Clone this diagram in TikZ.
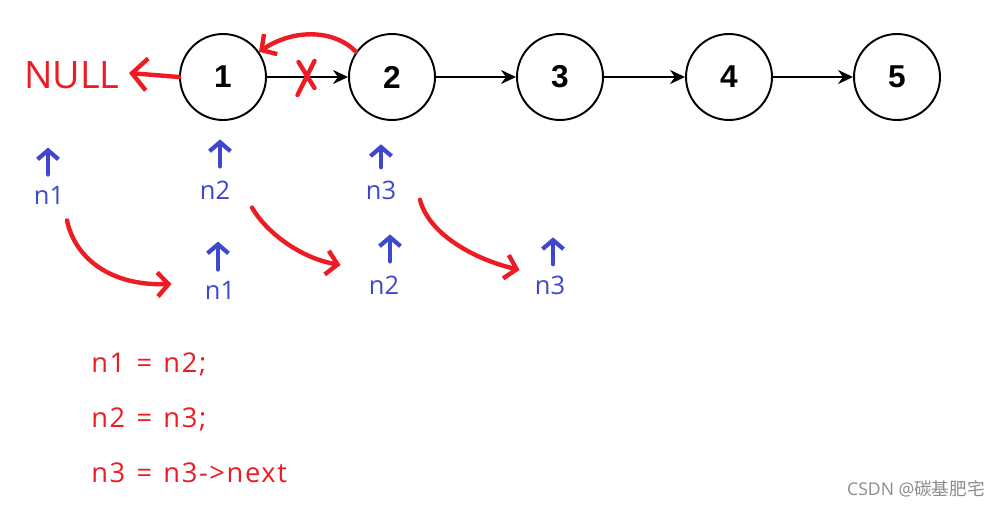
\documentclass[tikz,border=0pt]{standalone}
\usepackage{fontspec}
\setmainfont{Open Sans}
\newfontfamily\numfont{Liberation Sans}
\newfontfamily\codefont[LetterSpace=6,WordSpace=1.3]{Open Sans}
\newfontfamily\cjkfont{Noto Sans CJK SC}
\usetikzlibrary{arrows.meta,calc}

\definecolor{paintred}{RGB}{237,28,36}
\definecolor{paintblue}{RGB}{63,72,204}

\tikzset{
  listnode/.style={circle, draw, line width=1.1pt, minimum size=1.72cm, inner sep=0pt,
    font=\numfont\bfseries\fontsize{18}{18}\selectfont},
  link/.style={line width=1.1pt, -{Stealth[length=0.3cm,width=0.28cm]}},
  redpen/.style={paintred, line width=2.5pt, line cap=round, line join=round,
    -{Straight Barb[length=0.22cm,width=0.48cm]}},
  bluepen/.style={paintblue, line width=2.4pt, line cap=round,
    -{Straight Barb[length=0.18cm,width=0.42cm]}},
  ptrlabel/.style={paintblue, inner sep=0pt, font=\fontsize{14.5}{14.5}\selectfont},
  codeline/.style={paintred, anchor=base west, inner sep=0pt, font=\codefont\fontsize{15.5}{15.5}\selectfont}
}

\begin{document}
\begin{tikzpicture}[x=0.02cm, y=-0.02cm]
  \fill[white] (0,0) rectangle (1000,507);
  \useasboundingbox (0,0) rectangle (1000,507);

  % The list
  \node[listnode] (c1) at (223,77) {1};
  \node[listnode] (c2) at (392,77) {2};
  \node[listnode] (c3) at (560,77) {3};
  \node[listnode] (c4) at (729,77) {4};
  \node[listnode] (c5) at (897,77) {5};
  \draw[link] (c1) -- (c2);
  \draw[link] (c2) -- (c3);
  \draw[link] (c3) -- (c4);
  \draw[link] (c4) -- (c5);

  % Reversed link
  \node[paintred, anchor=west, inner sep=0pt, font=\fontsize{21.5}{21.5}\selectfont] (null) at (24,75) {NULL};
  \coordinate (nullend) at (129,73);
  \draw[redpen, -{Straight Barb[length=0.3cm,width=0.64cm]}] (c1.west) -- (nullend);
  \draw[redpen] (c2.145) .. controls (335,30) and (295,28) .. (c1.35);
  \coordinate (cut) at ($(c1)!0.5!(c2)$);
  \draw[paintred, line width=2.5pt, line cap=round]
    ($(cut)+(-9,-15)$) -- ($(cut)+(7,11)$)
    ($(cut)+(7,-16)$) -- ($(cut)+(-10,18)$);

  % Pointers, before
  \node[ptrlabel] (p1) at (49,195) {n1};
  \node[ptrlabel] (p2) at (215,190) {n2};
  \node[ptrlabel] (p3) at (381,190) {n3};
  \draw[bluepen] (p1.north) ++(-1,-11) -- ++(0,-27);
  \draw[bluepen] (p2.north) ++(5,-14) -- ++(0,-27);
  \draw[bluepen] (p3.north) ++(0,-13) -- ++(0,-23);

  % Pointers, after
  \node[ptrlabel] (q1) at (220,290) {n1};
  \node[ptrlabel] (q2) at (384,285) {n2};
  \node[ptrlabel] (q3) at (550,285) {n3};
  \draw[bluepen] (q1.north) ++(-2,-11) -- ++(0,-28);
  \draw[bluepen] (q2.north) ++(6,-14) -- ++(0,-27);
  \draw[bluepen] (q3.north) ++(3,-11) -- ++(0,-27);

  % Moves
  \draw[redpen] ($(p1.south)+(18,16)$) .. controls (75,258) and (110,286) .. ($(q1.west)+(-33,-6)$);
  \draw[redpen] ($(p2.south)+(37,8)$) .. controls (266,232) and (300,258) .. ($(q2.west)+(-28,-20)$);
  \draw[redpen] ($(p3.south)+(39,0)$) .. controls (428,232) and (470,258) .. ($(q3.west)+(-15,-15)$);

  % Code
  \node[codeline] (l1) at (91,372) {n1 = n2;};
  \node[codeline] (l2) at (91,427) {n2 = n3;};
  \node[codeline] (l3) at (91,482) {n3 = n3->next};

  \node[anchor=east, inner sep=0pt, text=black!45, font=\fontsize{10}{10}\selectfont] (mark) at (985,489)
    {CSDN @{\cjkfont 碳基肥宅}};
\end{tikzpicture}
\end{document}
